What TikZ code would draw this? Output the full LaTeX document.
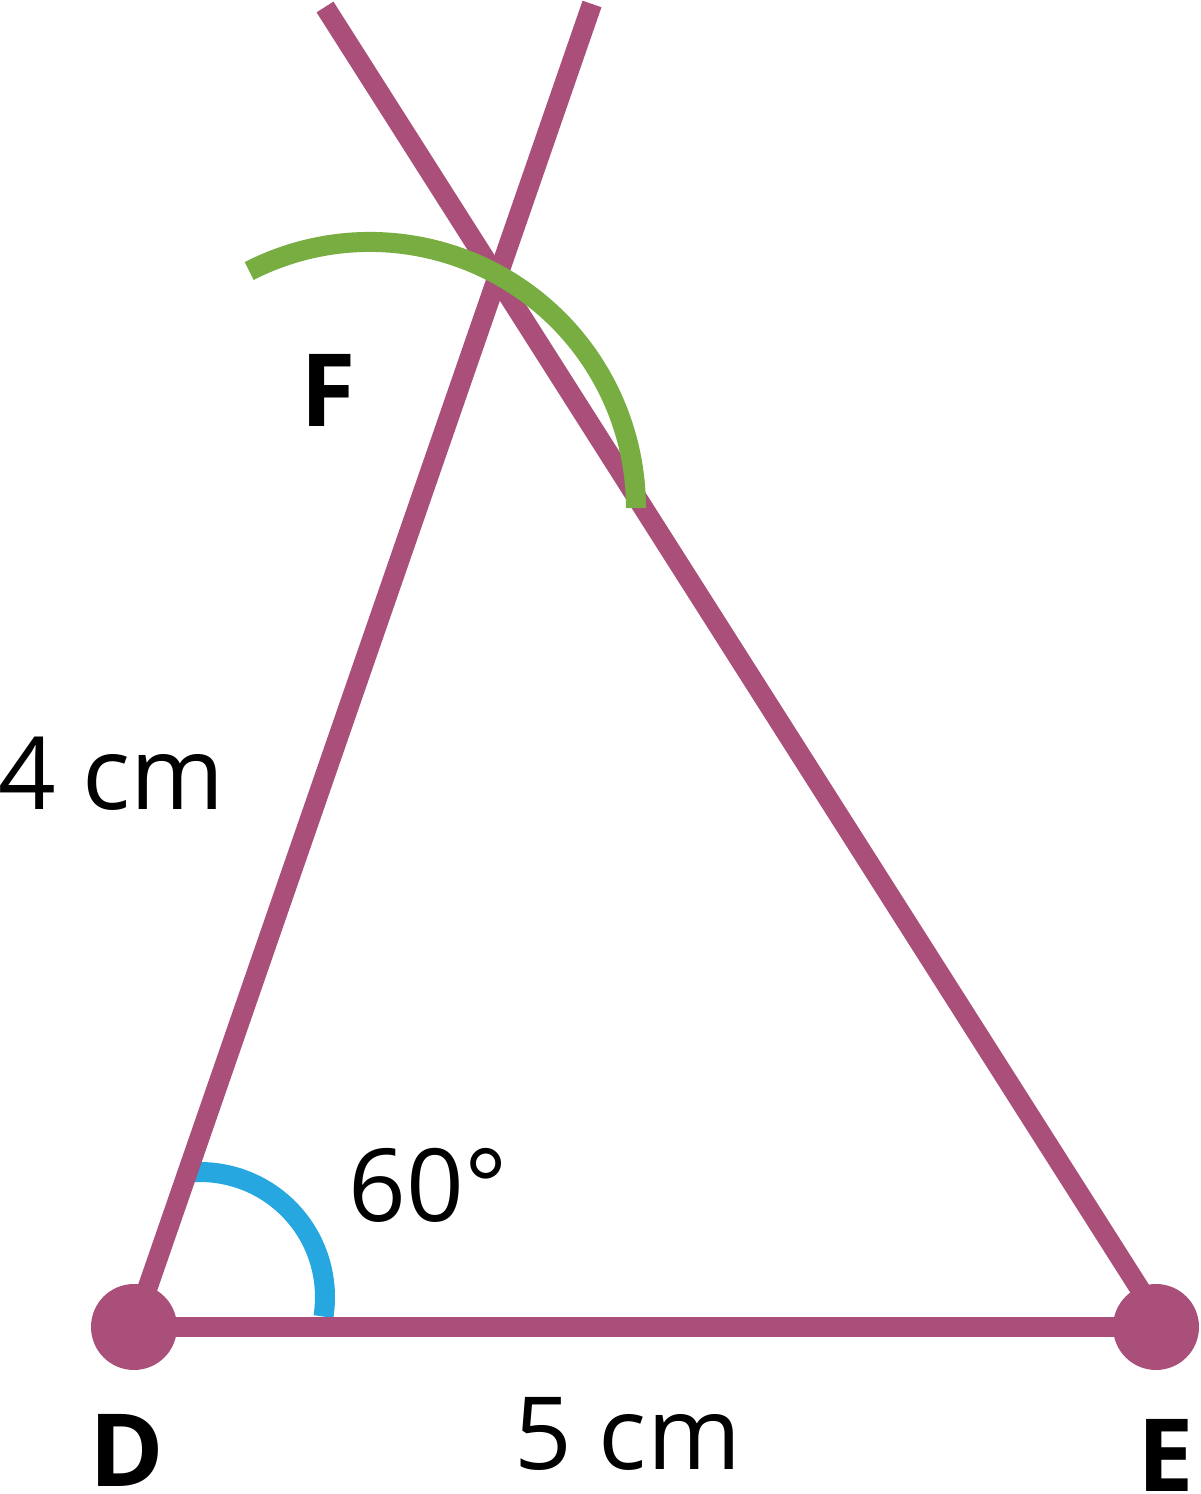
\documentclass[tikz,border=0pt]{standalone}
\usepackage{fontspec}
\setmainfont{Open Sans}
\definecolor{plum}{RGB}{169,79,122}
\definecolor{leaf}{RGB}{120,173,65}
\definecolor{sky}{RGB}{38,167,224}
\begin{document}
\begin{tikzpicture}[x=1pt,y=1pt,
  seg/.style={draw=plum,line width=20pt},
  dot/.style={circle,fill=plum,minimum size=86pt,inner sep=0pt},
  lab/.style={anchor=base,inner sep=0pt,font=\fontsize{101}{120}\selectfont},
  blab/.style={lab,font=\fontsize{101}{120}\selectfont\bfseries}]
\useasboundingbox (0,0) rectangle (1200,1494);
% angle mark
\draw[sky,line width=20pt] (189.1,321.5) arc (95:-9:125);
% points
\coordinate (Dc) at (134,167);
\coordinate (Ec) at (1156,167);
\coordinate (Ftop) at (592,1490);
\coordinate (Gtop) at (325,1487);
\coordinate (Gend) at (1150,189);
\draw[seg] (Dc) -- (Ec);
\draw[seg] (Dc) -- (Ftop);
\draw[seg] (Gend) -- (Gtop);
\node[dot] (D) at (Dc) {};
\node[dot] (E) at (Ec) {};
% compass arc
\draw[leaf,line width=20pt] (249.2,1223) arc (117:0:266);
% labels
\node[lab] (l4) at (112,684) {4 cm};
\node[lab] (l60) at (428,272) {60°};
\node[lab] (l5) at (628,24) {5 cm};
\node[blab] (lF) at (328,1067) {F};
\node[blab] (lD) at (127,8) {D};
\node[blab] (lE) at (1166,2) {E};
\end{tikzpicture}
\end{document}
